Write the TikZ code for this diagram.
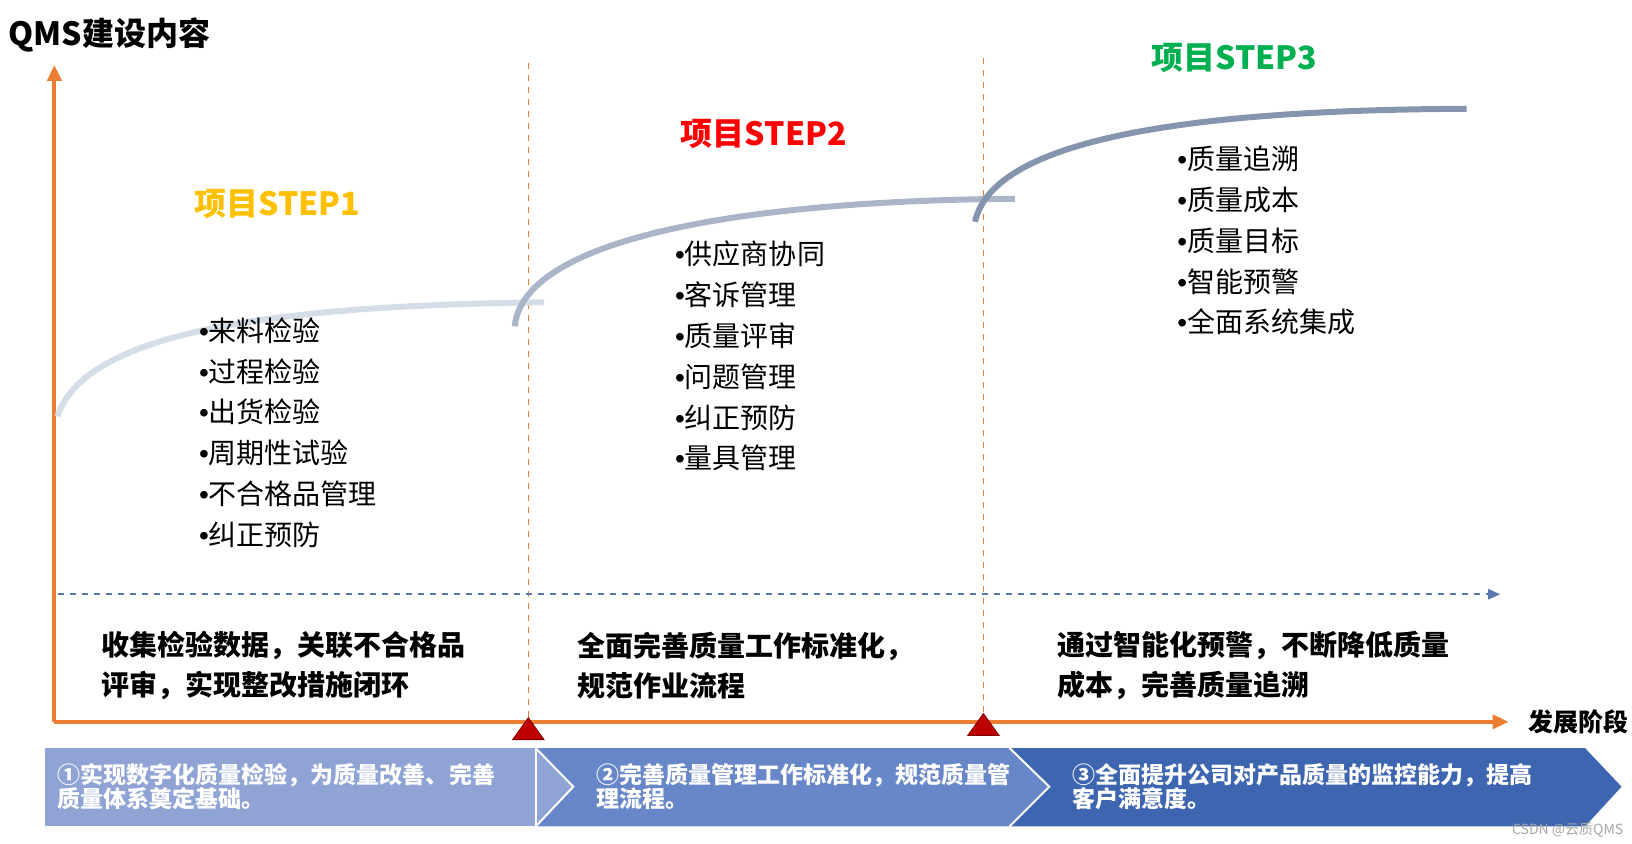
\documentclass[tikz,border=0pt]{standalone}
\usepackage{fontspec}
\setmainfont{Noto Sans CJK SC}
\newfontfamily\latn{Liberation Sans}
\usetikzlibrary{arrows.meta}
\definecolor{ax}{HTML}{ED7D31}
\definecolor{dk}{HTML}{2F5597}
\newcommand{\bul}{{\latn •}}
\begin{document}
\begin{tikzpicture}[x=0.523pt,y=-0.523pt,
  item/.style={anchor=west,font=\fontsize{14}{16}\selectfont,inner sep=0},
  bold/.style={anchor=west,font=\bfseries\fontsize{14}{16}\selectfont,inner sep=0,align=left},
  band/.style={anchor=west,text=white,font=\bfseries\fontsize{11.5}{12}\selectfont,inner sep=0,align=left},
  curve/.style={line width=3pt}]
\useasboundingbox (0,0) rectangle (1560,806);
% title
\node[anchor=west,font=\bfseries\fontsize{16}{18}\selectfont,inner sep=0] (title) at (8,33) {QMS建设内容};
% axes
\coordinate (o) at (52,690);
\coordinate (ytop) at (52,62);
\coordinate (xend) at (1442,690);
\draw[ax,line width=2pt,-{Triangle[length=8pt,width=7pt]}] (o) -- (ytop);
\draw[ax,line width=2pt,-{Triangle[length=8pt,width=7pt]}] (o) -- (xend);
\node[anchor=east,font=\bfseries\fontsize{12.5}{14}\selectfont,inner sep=0] (stage) at (1557,690) {发展阶段};
% dashed dividers
\coordinate (d1t) at (505,60); \coordinate (d1b) at (505,690);
\coordinate (d2t) at (940,55); \coordinate (d2b) at (940,690);
\draw[ax,dashed,line width=0.8pt] (d1t) -- (d1b);
\draw[ax,dashed,line width=0.8pt] (d2t) -- (d2b);
\fill[red!75!black,draw=red!50!black] (490,707) -- (520,707) -- (505,686) -- cycle;
\fill[red!75!black,draw=red!50!black] (925,703) -- (955,703) -- (940,682) -- cycle;
% blue dashed line
\coordinate (b1) at (55,568); \coordinate (b2) at (1434,568);
\draw[dk!80,dashed,line width=1.2pt,-{Triangle[length=6pt,width=5pt]}] (b1) -- (b2);
% curves
\draw[curve,color={rgb,255:red,213;green,221;blue,232}] (55,398) .. controls (80,320) and (250,292) .. (520,289);
\draw[curve,color={rgb,255:red,170;green,182;blue,200}] (492,312) .. controls (500,230) and (700,192) .. (970,190);
\draw[curve,color={rgb,255:red,133;green,149;blue,173}] (932,212) .. controls (950,130) and (1150,105) .. (1402,104);
% step labels
\node[font=\bfseries\fontsize{16}{18}\selectfont,text={rgb,255:red,255;green,192;blue,0}] (s1) at (265,195) {项目STEP1};
\node[font=\bfseries\fontsize{16}{18}\selectfont,text=red] (s2) at (730,128) {项目STEP2};
\node[font=\bfseries\fontsize{16}{18}\selectfont,text={rgb,255:red,0;green,176;blue,80}] (s3) at (1180,55) {项目STEP3};
% lists
\foreach \t [count=\i from 0] in {来料检验,过程检验,出货检验,周期性试验,不合格品管理,纠正预防}
  \node[item] (a\i) at (190,316+39*\i) {\bul\t};
\foreach \t [count=\i from 0] in {供应商协同,客诉管理,质量评审,问题管理,纠正预防,量具管理}
  \node[item] (b\i) at (645,243+39*\i) {\bul\t};
\foreach \t [count=\i from 0] in {质量追溯,质量成本,质量目标,智能预警,全面系统集成}
  \node[item] (c\i) at (1125,152+39*\i) {\bul\t};
% bottom bold text
\node[bold] (t1) at (97,636) {收集检验数据，关联不合格品\\[4pt]评审，实现整改措施闭环};
\node[bold] (t2) at (552,636) {全面完善质量工作标准化，\\[4pt]规范作业流程};
\node[bold] (t3) at (1010,636) {通过智能化预警，不断降低质量\\[4pt]成本，完善质量追溯};
% band
\fill[color={rgb,255:red,143;green,163;blue,213}] (43,715) rectangle (512,790);
\fill[color={rgb,255:red,143;green,163;blue,213}] (512,715) -- (548,752) -- (512,790) -- cycle;
\fill[color={rgb,255:red,104;green,135;blue,200}] (512,715) -- (965,715) -- (1003,752) -- (965,790) -- (512,790) -- (548,752) -- cycle;
\fill[color={rgb,255:red,61;green,101;blue,176}] (965,715) -- (1515,715) -- (1550,752) -- (1515,790) -- (965,790) -- (1003,752) -- cycle;
\draw[white,line width=1pt] (512,715) -- (512,790);
\draw[white,line width=1pt] (512,715) -- (548,752) -- (512,790);
\draw[white,line width=1pt] (965,715) -- (1003,752) -- (965,790);
\node[band] (n1) at (55,752) {①实现数字化质量检验，为质量改善、完善\\质量体系奠定基础。};
\node[band] (n2) at (570,752) {②完善质量管理工作标准化，规范质量管\\理流程。};
\node[band] (n3) at (1025,752) {③全面提升公司对产品质量的监控能力，提高\\客户满意度。};
\node[anchor=east,text=gray!70,font=\fontsize{7}{8}\selectfont,inner sep=0] (wm) at (1552,793) {CSDN @云质QMS};
\end{tikzpicture}
\end{document}
